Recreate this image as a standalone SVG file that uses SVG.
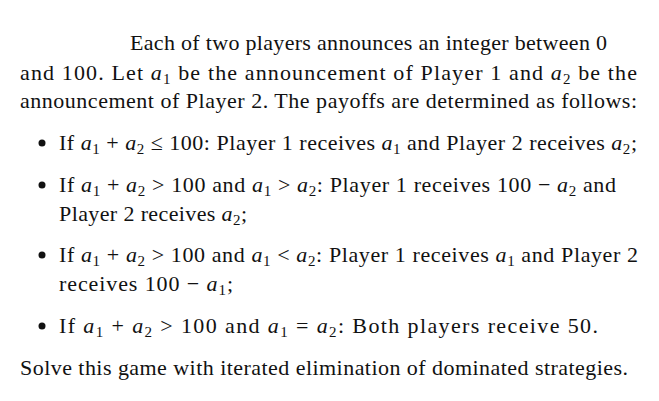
<svg xmlns="http://www.w3.org/2000/svg" width="659" height="401" viewBox="0 0 659 401">
<style>
text{font-family:"Liberation Serif","DejaVu Serif",serif;font-size:22px;fill:#111}
.i{font-style:italic}
.s{font-size:15px}
</style>
<rect width="659" height="401" fill="#fff"/>
<g id="text">
<text x="130" y="50" textLength="477" lengthAdjust="spacing">Each of two players announces an integer between 0</text>
<text x="20" y="80" textLength="617" lengthAdjust="spacing">and 100. Let <tspan class="i">a</tspan><tspan class="s" dy="4">1</tspan><tspan dy="-4"> be the announcement of Player 1 and </tspan><tspan class="i">a</tspan><tspan class="s" dy="4">2</tspan><tspan dy="-4"> be the</tspan></text>
<text x="20" y="108" textLength="617" lengthAdjust="spacing">announcement of Player 2. The payoffs are determined as follows:</text>
<circle cx="42" cy="143" r="3.5" fill="#111"/>
<text x="59" y="150" textLength="578" lengthAdjust="spacing">If <tspan class="i">a</tspan><tspan class="s" dy="4">1</tspan><tspan dy="-4"> + </tspan><tspan class="i">a</tspan><tspan class="s" dy="4">2</tspan><tspan dy="-4"> ≤ 100: Player 1 receives </tspan><tspan class="i">a</tspan><tspan class="s" dy="4">1</tspan><tspan dy="-4"> and Player 2 receives </tspan><tspan class="i">a</tspan><tspan class="s" dy="4">2</tspan><tspan dy="-4">;</tspan></text>
<circle cx="42" cy="185" r="3.5" fill="#111"/>
<text x="59" y="192" textLength="557" lengthAdjust="spacing">If <tspan class="i">a</tspan><tspan class="s" dy="4">1</tspan><tspan dy="-4"> + </tspan><tspan class="i">a</tspan><tspan class="s" dy="4">2</tspan><tspan dy="-4"> &gt; 100 and </tspan><tspan class="i">a</tspan><tspan class="s" dy="4">1</tspan><tspan dy="-4"> &gt; </tspan><tspan class="i">a</tspan><tspan class="s" dy="4">2</tspan><tspan dy="-4">: Player 1 receives 100 − </tspan><tspan class="i">a</tspan><tspan class="s" dy="4">2</tspan><tspan dy="-4"> and</tspan></text>
<text x="59" y="221" textLength="188" lengthAdjust="spacing">Player 2 receives <tspan class="i">a</tspan><tspan class="s" dy="4">2</tspan><tspan dy="-4">;</tspan></text>
<circle cx="42" cy="255" r="3.5" fill="#111"/>
<text x="59" y="262" textLength="579" lengthAdjust="spacing">If <tspan class="i">a</tspan><tspan class="s" dy="4">1</tspan><tspan dy="-4"> + </tspan><tspan class="i">a</tspan><tspan class="s" dy="4">2</tspan><tspan dy="-4"> &gt; 100 and </tspan><tspan class="i">a</tspan><tspan class="s" dy="4">1</tspan><tspan dy="-4"> &lt; </tspan><tspan class="i">a</tspan><tspan class="s" dy="4">2</tspan><tspan dy="-4">: Player 1 receives </tspan><tspan class="i">a</tspan><tspan class="s" dy="4">1</tspan><tspan dy="-4"> and Player 2</tspan></text>
<text x="59" y="291" textLength="174" lengthAdjust="spacing">receives 100 − <tspan class="i">a</tspan><tspan class="s" dy="4">1</tspan><tspan dy="-4">;</tspan></text>
<circle cx="42" cy="326" r="3.5" fill="#111"/>
<text x="59" y="333" textLength="539" lengthAdjust="spacing">If <tspan class="i">a</tspan><tspan class="s" dy="4">1</tspan><tspan dy="-4"> + </tspan><tspan class="i">a</tspan><tspan class="s" dy="4">2</tspan><tspan dy="-4"> &gt; 100 and </tspan><tspan class="i">a</tspan><tspan class="s" dy="4">1</tspan><tspan dy="-4"> = </tspan><tspan class="i">a</tspan><tspan class="s" dy="4">2</tspan><tspan dy="-4">: Both players receive 50.</tspan></text>
<text x="20" y="375" textLength="608" lengthAdjust="spacing">Solve this game with iterated elimination of dominated strategies.</text>
</g>
</svg>
